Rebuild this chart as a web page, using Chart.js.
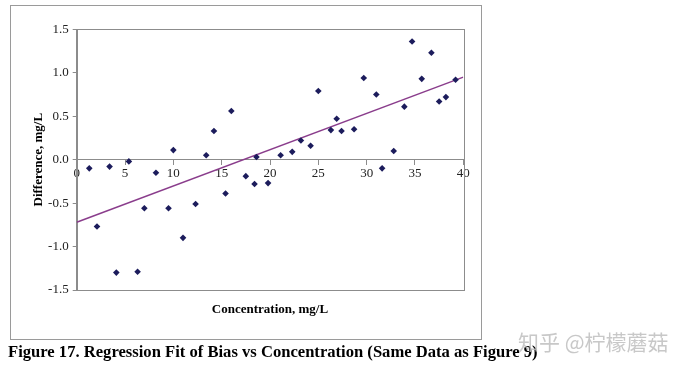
<!DOCTYPE html>
<html lang="en">
<head>
    <meta charset="UTF-8" />
    <title>Regression Fit of Bias vs Concentration</title>
    <script src="https://cdn.jsdelivr.net/npm/chart.js"></script>
    <style>
        body {
            margin: 0;
            background: #fff;
            font-family: "Liberation Serif", serif;
        }

        #box {
            position: absolute;
            left: 10px;
            top: 5px;
            width: 472px;
            height: 335px;
            border: 1px solid #9a9a9a;
            box-sizing: border-box;
        }

        #chart {
            position: absolute;
            left: 0;
            top: 0;
        }

        #caption {
            position: absolute;
            left: 8px;
            top: 342px;
            font-weight: bold;
            font-size: 16.6px;
            white-space: nowrap;
            color: #000;
        }

        #mark {
            position: absolute;
            left: 518px;
            top: 326px;
            font-family: "Noto Sans CJK SC", sans-serif;
            font-size: 21px;
            color: rgba(190, 190, 190, 0.85);
            white-space: nowrap;
        }
    </style>
</head>
<body>
    <div id="box"></div>
    <canvas id="chart" width="685" height="369"></canvas>
    <div id="caption">Figure 17. Regression Fit of Bias vs Concentration (Same Data as Figure 9)</div>
    <div id="mark">知乎 @柠檬蘑菇</div>

    <script>
        // data
        const concentration = [1.3, 2.1, 3.4, 4.1, 5.4, 6.3, 7.0, 8.2, 9.5, 10.0,
            11.0, 12.3, 13.4, 14.2, 15.4, 16.0, 17.5, 18.4, 18.6, 19.8,
            21.1, 22.3, 23.2, 24.2, 25.0, 26.3, 26.9, 27.4, 28.7, 29.7,
            31.0, 31.6, 32.8, 33.9, 34.7, 35.7, 36.7, 37.5, 38.2, 39.2];
        const difference = [-0.10, -0.77, -0.08, -1.30, -0.02, -1.29, -0.56, -0.15, -0.56, 0.11,
            -0.90, -0.51, 0.05, 0.33, -0.39, 0.56, -0.19, -0.28, 0.03, -0.27,
            0.05, 0.09, 0.22, 0.16, 0.79, 0.34, 0.47, 0.33, 0.35, 0.94,
            0.75, -0.10, 0.10, 0.61, 1.36, 0.93, 1.23, 0.67, 0.72, 0.92];
        const fitX = [0, 40];
        const fitY = [-0.72, 0.95];
        const xTicks = [0, 5, 10, 15, 20, 25, 30, 35, 40];
        const yTicks = [-1.5, -1.0, -0.5, 0.0, 0.5, 1.0, 1.5];

        const axisGrey = '#8c8c8c';
        const serif = 'Liberation Serif';

        // frame round the plot area
        const frame = {
            id: 'frame',
            beforeDatasetsDraw(chart) {
                const a = chart.chartArea, c = chart.ctx;
                c.save();
                c.strokeStyle = axisGrey;
                c.lineWidth = 1;
                c.strokeRect(Math.round(a.left) + 0.5, Math.round(a.top) + 0.5,
                    Math.round(a.right - a.left), Math.round(a.bottom - a.top));
                c.restore();
            }
        };

        new Chart(document.getElementById('chart'), {
            data: {
                datasets: [
                    {
                        type: 'scatter',
                        data: concentration.map((x, i) => ({ x, y: difference[i] })),
                        pointStyle: 'rectRot',
                        pointRadius: 3.3,
                        backgroundColor: '#1c1c5c',
                        borderColor: '#1c1c5c',
                        borderWidth: 0,
                        order: 1
                    },
                    {
                        type: 'line',
                        data: fitX.map((x, i) => ({ x, y: fitY[i] })),
                        borderColor: '#8a3d8c',
                        borderWidth: 1.5,
                        pointRadius: 0,
                        fill: false,
                        order: 2
                    }
                ]
            },
            options: {
                responsive: false,
                animation: false,
                events: [],
                layout: { padding: { top: 29.3, left: 31.2, right: 221.7, bottom: 51.2 } },
                plugins: { legend: { display: false }, tooltip: { enabled: false } },
                scales: {
                    x: {
                        type: 'linear',
                        position: { y: 0 },
                        min: 0, max: 40,
                        afterBuildTicks: s => { s.ticks = xTicks.map(v => ({ value: v })); },
                        ticks: {
                            color: '#222',
                            font: { family: serif, size: 13 },
                            padding: 1,
                            maxRotation: 0,
                            callback: v => String(v)
                        },
                        grid: { display: true, drawOnChartArea: false, drawTicks: true, tickLength: 5, color: axisGrey },
                        border: { display: true, color: axisGrey }
                    },
                    xTitle: {
                        type: 'linear',
                        position: 'bottom',
                        min: 0, max: 40,
                        afterFit: s => { s.height = 27.8; },
                        ticks: { display: false },
                        grid: { display: false, drawTicks: false },
                        border: { display: false },
                        title: {
                            display: true,
                            text: 'Concentration, mg/L',
                            color: '#000',
                            padding: 0,
                            font: { family: serif, size: 13, weight: 'bold' }
                        }
                    },
                    y: {
                        type: 'linear',
                        position: 'left',
                        min: -1.5, max: 1.5,
                        afterFit: s => { s.width = 45.5; },
                        afterBuildTicks: s => { s.ticks = yTicks.map(v => ({ value: v })); },
                        ticks: {
                            color: '#222',
                            font: { family: serif, size: 13 },
                            padding: 4,
                            callback: v => v.toFixed(1)
                        },
                        grid: { display: true, drawOnChartArea: false, drawTicks: true, tickLength: 4, color: axisGrey },
                        border: { display: true, color: axisGrey },
                        title: {
                            display: true,
                            text: 'Difference, mg/L',
                            color: '#000',
                            padding: 0,
                            font: { family: serif, size: 13, weight: 'bold' }
                        }
                    }
                }
            },
            plugins: [frame]
        });
    </script>
</body>
</html>
